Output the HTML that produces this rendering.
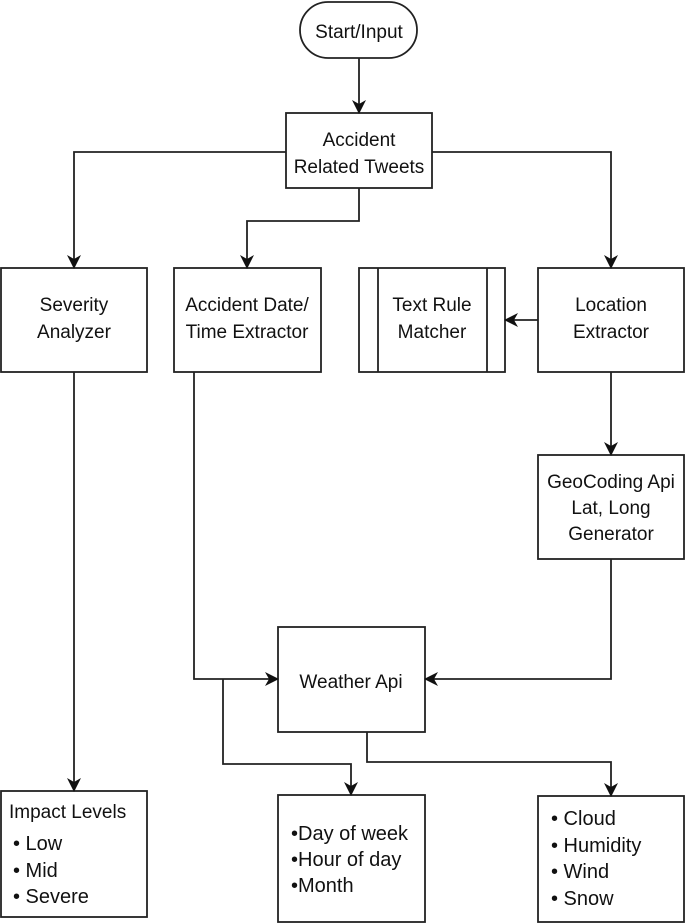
<!DOCTYPE html>
<html><head><style>html,body{margin:0;padding:0;background:#fff}svg{display:block}</style></head>
<body>
<svg width="685" height="923" viewBox="0 0 685 923" xmlns="http://www.w3.org/2000/svg" font-family="Liberation Sans, sans-serif" font-size="19" fill="#111">
<defs><marker id="a" markerWidth="14" markerHeight="14" refX="12" refY="7" orient="auto" markerUnits="userSpaceOnUse"><path d="M0,0 L14,7 L0,14 L4,7 Z" fill="#111"/></marker></defs>
<g fill="none" stroke="#222" stroke-width="1.8">
<rect x="300" y="2" width="117" height="56" rx="28"/>
<rect x="286" y="113" width="146" height="75"/>
<rect x="1" y="268" width="146" height="104"/>
<rect x="174" y="268" width="147" height="104"/>
<rect x="359" y="268" width="146" height="104"/>
<line x1="378" y1="268" x2="378" y2="372"/><line x1="487" y1="268" x2="487" y2="372"/>
<rect x="538" y="268" width="146" height="104"/>
<rect x="538" y="455" width="146" height="104"/>
<rect x="278" y="627" width="147" height="105"/>
<rect x="1" y="791" width="146" height="126"/>
<rect x="278" y="795" width="147" height="127"/>
<rect x="538" y="796" width="146" height="126"/>
<path d="M359,58 V112" marker-end="url(#a)"/>
<path d="M286,152 H74 V267" marker-end="url(#a)"/>
<path d="M432,152 H611 V267" marker-end="url(#a)"/>
<path d="M359,188 V221 H247 V267" marker-end="url(#a)"/>
<path d="M538,320 H506" marker-end="url(#a)"/>
<path d="M611,372 V454" marker-end="url(#a)"/>
<path d="M194,372 V679 H277" marker-end="url(#a)"/>
<path d="M611,559 V679 H426" marker-end="url(#a)"/>
<path d="M74,372 V790" marker-end="url(#a)"/>
<path d="M223,679 V764 H351 V794" marker-end="url(#a)"/>
<path d="M367,732 V762 H611 V795" marker-end="url(#a)"/>
</g>
<g text-anchor="middle">
<text x="359" y="38">Start/Input</text>
<text x="359" y="146">Accident</text><text x="359" y="173">Related Tweets</text>
<text x="74" y="311">Severity</text><text x="74" y="338">Analyzer</text>
<text x="247" y="311">Accident Date/</text><text x="247" y="338">Time Extractor</text>
<text x="432" y="311">Text Rule</text><text x="432" y="338">Matcher</text>
<text x="611" y="311">Location</text><text x="611" y="338">Extractor</text>
<text x="611" y="488">GeoCoding Api</text><text x="611" y="514">Lat, Long</text><text x="611" y="540">Generator</text>
<text x="351" y="688">Weather Api</text>
</g>
<text x="9" y="818">Impact Levels</text>
<g font-size="20"><text x="13" y="850">• Low</text><text x="13" y="877">• Mid</text><text x="13" y="903">• Severe</text>
<text x="291" y="840">•Day of week</text><text x="291" y="866">•Hour of day</text><text x="291" y="892">•Month</text>
<text x="551" y="825">• Cloud</text><text x="551" y="852">• Humidity</text><text x="551" y="878">• Wind</text><text x="551" y="905">• Snow</text></g>
</svg>
</body></html>
